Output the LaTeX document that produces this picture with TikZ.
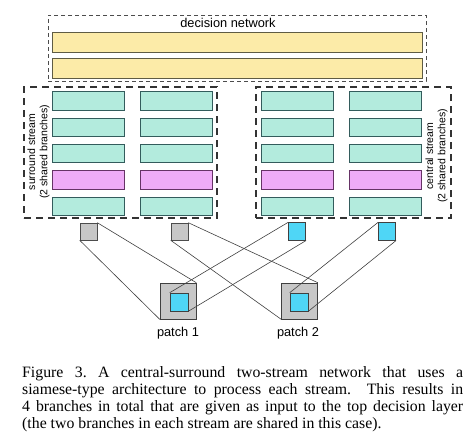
\documentclass[tikz,border=0pt]{standalone}
\usepackage{fontspec}
\setmainfont{Liberation Serif}
\setsansfont{Liberation Sans}
\begin{document}
\begin{tikzpicture}[x=1pt,y=-1pt,
  dec/.style={draw=black!70, line width=0.9pt, dash pattern=on 4pt off 3pt},
  strm/.style={draw=black!80, line width=1.1pt, dash pattern=on 7pt off 5pt},
  ybar/.style={draw=black!60!yellow!70!black, line width=0.8pt, minimum width=370, minimum height=20, inner sep=0},
  tbar/.style={draw=teal!40!black!80, line width=0.8pt, minimum width=72, minimum height=18.5, inner sep=0},
  pbar/.style={draw=violet!50!black!80, line width=0.8pt, minimum width=72, minimum height=18.5, inner sep=0},
  gsq/.style={draw=black!70, fill=black!22, line width=0.6pt, minimum size=17, inner sep=0},
  csq/.style={draw=black!75, line width=0.6pt, minimum size=17.5, inner sep=0},
  patch/.style={draw=black!75, fill=black!22, line width=0.6pt, minimum size=36, inner sep=0},
  lab/.style={font=\sffamily\fontsize{12.8}{14}\selectfont, inner sep=0},
  rlab/.style={font=\sffamily\fontsize{10.5}{12.2}\selectfont, align=center, rotate=90, inner sep=0},
  conn/.style={draw=black!75, line width=0.6pt}
]
\useasboundingbox (0,0) rectangle (474,445);
\definecolor{ybfill}{HTML}{FCEBA8}
\definecolor{tbfill}{HTML}{B3EBDD}
\definecolor{pbfill}{HTML}{EFABF7}
\definecolor{csfill}{HTML}{4FD6F6}
\tikzset{ybar/.append style={fill=ybfill}, tbar/.append style={fill=tbfill}, pbar/.append style={fill=pbfill}, csq/.append style={fill=csfill}}

% decision network
\node[dec, minimum width=378, minimum height=66, inner sep=0] (decbox) at (237,48) {};
\node[lab, anchor=base] (dectext) at (228,27.5) {decision network};
\node[ybar] (d1) at (237,42) {};
\node[ybar] (d2) at (237,68) {};

% stream boxes
\node[strm, minimum width=193, minimum height=131, inner sep=0] (sbox) at (120.5,152.5) {};
\node[strm, minimum width=195, minimum height=131, inner sep=0] (cbox) at (353.5,152.5) {};

% columns
\foreach \c/\x in {1/88,2/176.5,3/297,4/385.5}{
  \node[tbar] (b\c-1) at (\x,101) {};
  \node[tbar] (b\c-2) at (\x,127.3) {};
  \node[tbar] (b\c-3) at (\x,153.6) {};
  \node[pbar] (b\c-4) at (\x,179.9) {};
  \node[tbar] (b\c-5) at (\x,206.2) {};
}

\node[rlab] (slab) at (38.5,152) {surround stream\\(2 shared branches)};
\node[rlab] (clab) at (436.5,156) {central stream\\(2 shared branches)};

% input squares
\node[gsq] (g1) at (88.5,231.5) {};
\node[gsq] (g2) at (179.5,231.5) {};
\node[csq] (c1) at (297,231.5) {};
\node[csq] (c2) at (387,231.5) {};

% patches
\node[patch] (p1) at (178,301) {};
\node[csq, minimum size=18] (p1in) at (179,302) {};
\node[patch] (p2) at (299.5,301) {};
\node[csq, minimum size=18] (p2in) at (299,302) {};
\node[lab, anchor=base] (p1lab) at (178,336) {patch 1};
\node[lab, anchor=base] (p2lab) at (298,336) {patch 2};

% connectors
\draw[conn] (g1.north east) -- (p1.north east);
\draw[conn] (g1.south west) -- (p1.south west);
\draw[conn] (g2.north east) -- (p2.north east);
\draw[conn] (g2.south west) -- (p2.south west);
\draw[conn] (c1.north west) -- (p1in.north west);
\draw[conn] (c1.south east) -- (p1in.south east);
\draw[conn] (c2.north west) -- (p2in.north west);
\draw[conn] (c2.south east) -- (p2in.south east);

% caption
\node[anchor=base west, inner sep=0, text width=441pt, align=justify,
  font=\rmfamily\fontsize{15.8}{17}\selectfont] (cap) at (22,377)
 {Figure 3.\ A central-surround two-stream network that uses a\linebreak
  siamese-type architecture to process each stream. This results in\linebreak
  4 branches in total that are given as input to the top decision layer\linebreak
  (the two branches in each stream are shared in this case).};
\end{tikzpicture}
\end{document}
